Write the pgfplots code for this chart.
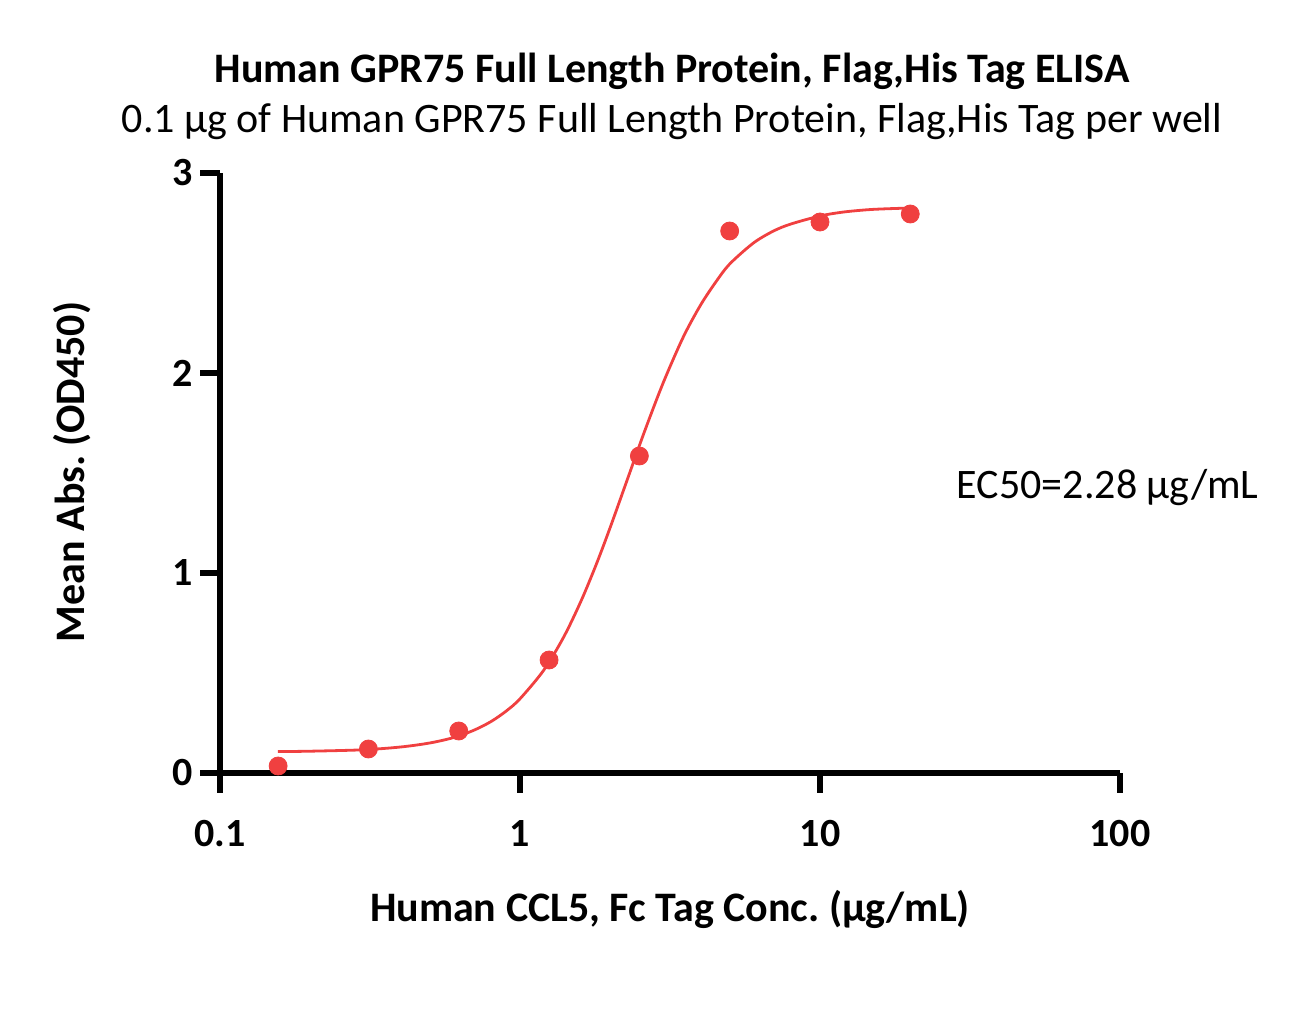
\documentclass[border=0pt]{standalone}
\usepackage{fontspec}
\setmainfont{Carlito}
\usepackage{pgfplots}
\pgfplotsset{compat=1.18}
\definecolor{myred}{RGB}{240,64,64}
\frenchspacing
\begin{document}
\begin{tikzpicture}[x=1pt,y=1pt]
\path[use as bounding box] (-110,-128) rectangle (539,386.5);
\begin{axis}[at={(0,0)},anchor=south west, scale only axis, width=450pt, height=300pt,
 xmode=log, xmin=0.1, xmax=100, ymin=0, ymax=3,
 axis x line=bottom, axis y line=left, axis line style={line width=2.8pt,-},
 xtick={0.1,1,10,100}, xticklabels={0.1,1,10,100},
 ytick={0,1,2,3}, yticklabels={0,1,2,3},
 xminorticks=false, yminorticks=false,
 tick align=outside, major tick length=10pt, tick style={line width=2.8pt,black},
 ticklabel style={font=\fontsize{20}{24}\selectfont\bfseries},
 xticklabel style={yshift=-10pt},
 clip=false,
]
\addplot[myred, line width=1.4pt, smooth] coordinates {
(0.156,0.107) (0.2,0.109) (0.3,0.116) (0.4,0.130) (0.5,0.150) (0.6,0.177)
(0.7,0.213) (0.8,0.257) (0.9,0.310) (1.0,0.371) (1.2,0.514) (1.4,0.681)
(1.6,0.862) (1.8,1.047) (2.0,1.229) (2.28,1.468) (2.6,1.707) (3.0,1.950)
(3.5,2.179) (4,2.340) (4.5,2.456) (5,2.545) (6,2.650) (7,2.710) (8,2.745)
(10,2.785) (12,2.805) (15,2.818) (20,2.825)};
\addplot[only marks, mark=*, mark size=4.5pt, mark options={fill=myred, draw=myred}] coordinates {
(0.15625,0.035) (0.3125,0.12) (0.625,0.21) (1.25,0.565) (2.5,1.585) (5,2.71) (10,2.755) (20,2.795)};
\node[anchor=base west, xshift=-3.5pt, yshift=-1pt, font=\fontsize{21}{25}\selectfont] at (axis cs:28.6,1.38) {EC50=2.28 μg/mL};
\end{axis}
\node[anchor=base, font=\fontsize{21}{25}\selectfont\bfseries] at (226,345) {Human GPR75 Full Length Protein, Flag,His Tag ELISA};
\node[anchor=base, font=\fontsize{21}{25}\selectfont] at (226,320) {0.1 μg of Human GPR75 Full Length Protein, Flag,His Tag per well};
\node[anchor=base, font=\fontsize{21}{25}\selectfont\bfseries] at (225,-74.5) {Human CCL5, Fc Tag Conc. (μg/mL)};
\node[rotate=90, font=\fontsize{21}{25}\selectfont\bfseries] at (-74,150.5) {Mean Abs. (OD450)};
\end{tikzpicture}
\end{document}
